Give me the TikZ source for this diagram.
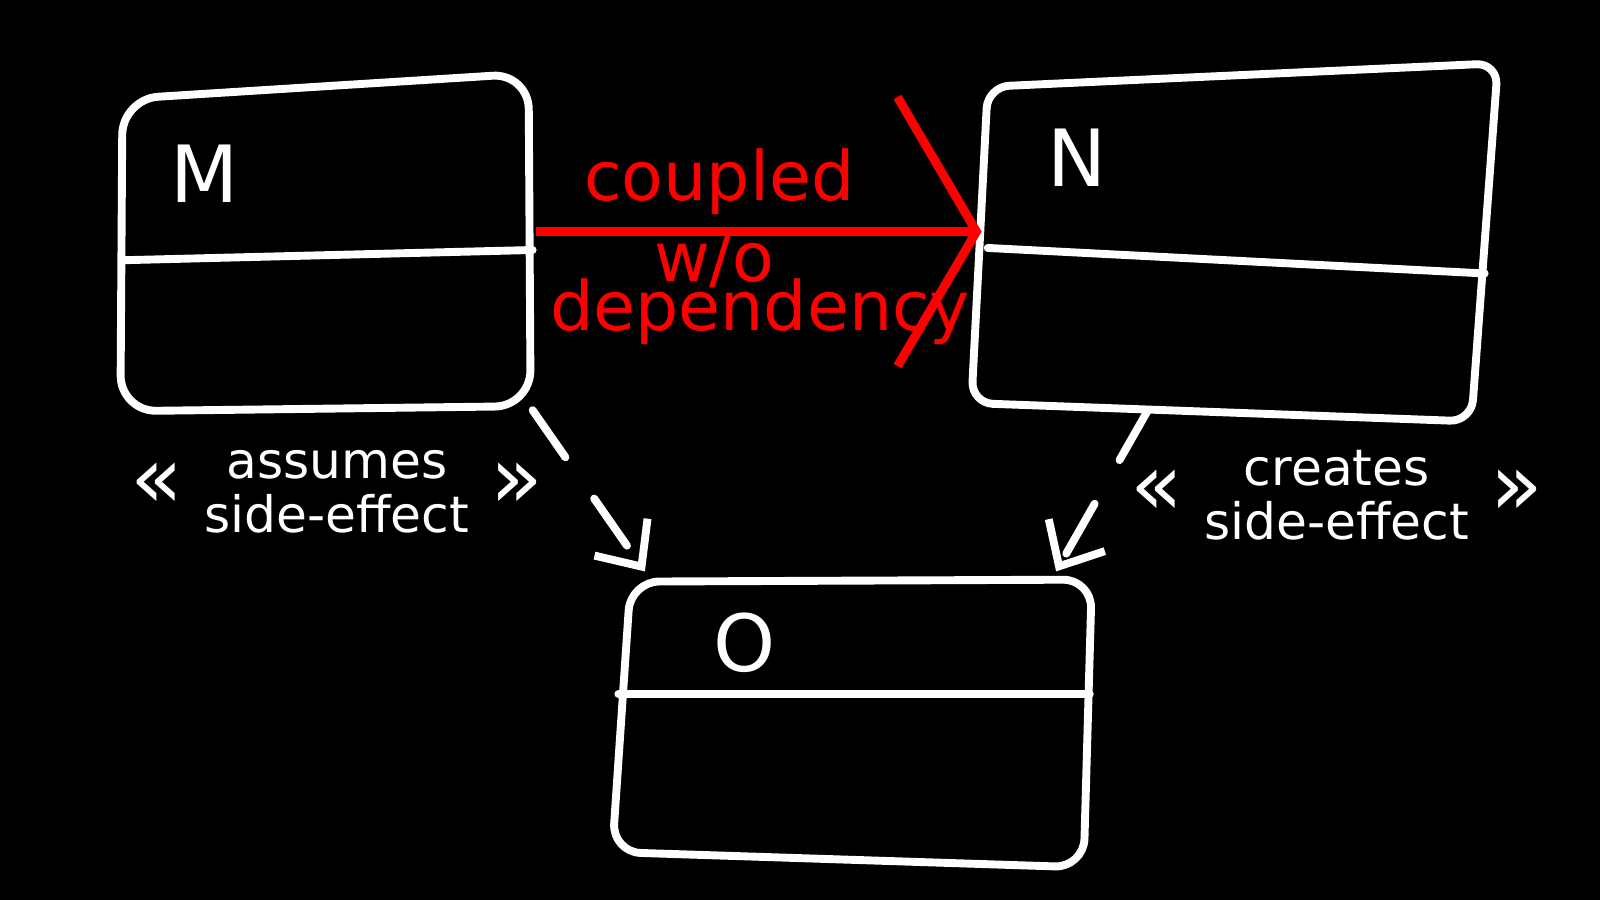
\documentclass[tikz,border=0pt]{standalone}
\usepackage{fontspec}
\setmainfont{DejaVu Sans}
\usetikzlibrary{arrows.meta}
\begin{document}
\begin{tikzpicture}[x=0.01cm,y=-0.01cm,
  wl/.style={draw=white,line width=2.2pt,line join=round,line cap=round},
  lbl/.style={text=white,font=\fontsize{22}{24}\selectfont},
  stx/.style={text=white,font=\fontsize{14}{15}\selectfont,align=center},
  rtx/.style={text=red,font=\fontsize{19}{20}\selectfont,align=center},
  dsh/.style={wl,dash pattern=on 16pt off 14pt,-{Straight Barb[length=10pt,width=18pt,line width=2.2pt]}}]
\fill[black] (0,0) rectangle (1568,882);
\useasboundingbox (0,0) rectangle (1568,882);
% M
\draw[wl,rounded corners=10pt] (120,97) -- (518,72) -- (520,398) -- (118,403) -- cycle;
\draw[wl] (122,255) -- (522,245);
\node[lbl] (m) at (200,170) {M};
\coordinate (mc) at (522,402);
\coordinate (me) at (525,227);
% N
\draw[wl,rounded corners=6pt] (968,85) -- (1468,62) -- (1442,413) -- (952,395) -- cycle;
\draw[wl] (968,243) -- (1455,268);
\node[lbl] (n) at (1055,155) {N};
\coordinate (nw) at (962,227);
\coordinate (nb) at (1125,402);
% O
\draw[wl,rounded corners=8pt] (618,570) -- (1070,568) -- (1062,850) -- (600,835) -- cycle;
\draw[wl] (606,680) -- (1068,680);
\node[lbl] (o) at (730,630) {O};
\coordinate (ot) at (632,560);
\coordinate (otr) at (1035,560);
% red arrow
\draw[red,line width=2.5pt,-{Straight Barb[length=22pt,width=75pt,line width=2.5pt]}] (me) -- (nw);
\node[rtx] (c1) at (705,178) {coupled};
\node[rtx] (c2) at (700,255) {w/o};
\node[rtx] (c3) at (745,305) {dependency};
% dashed arrows
\draw[dsh] (mc) -- (ot);
\draw[dsh] (nb) -- (otr);
\node[stx] (s1) at (330,485) {\fontsize{24}{24}\selectfont«\fontsize{14}{15}\selectfont\begin{tabular}{c}assumes\\side-effect\end{tabular}\fontsize{24}{24}\selectfont»};
\node[stx] (s2) at (1310,492) {\fontsize{24}{24}\selectfont«\fontsize{14}{15}\selectfont\begin{tabular}{c}creates\\side-effect\end{tabular}\fontsize{24}{24}\selectfont»};
\end{tikzpicture}
\end{document}
